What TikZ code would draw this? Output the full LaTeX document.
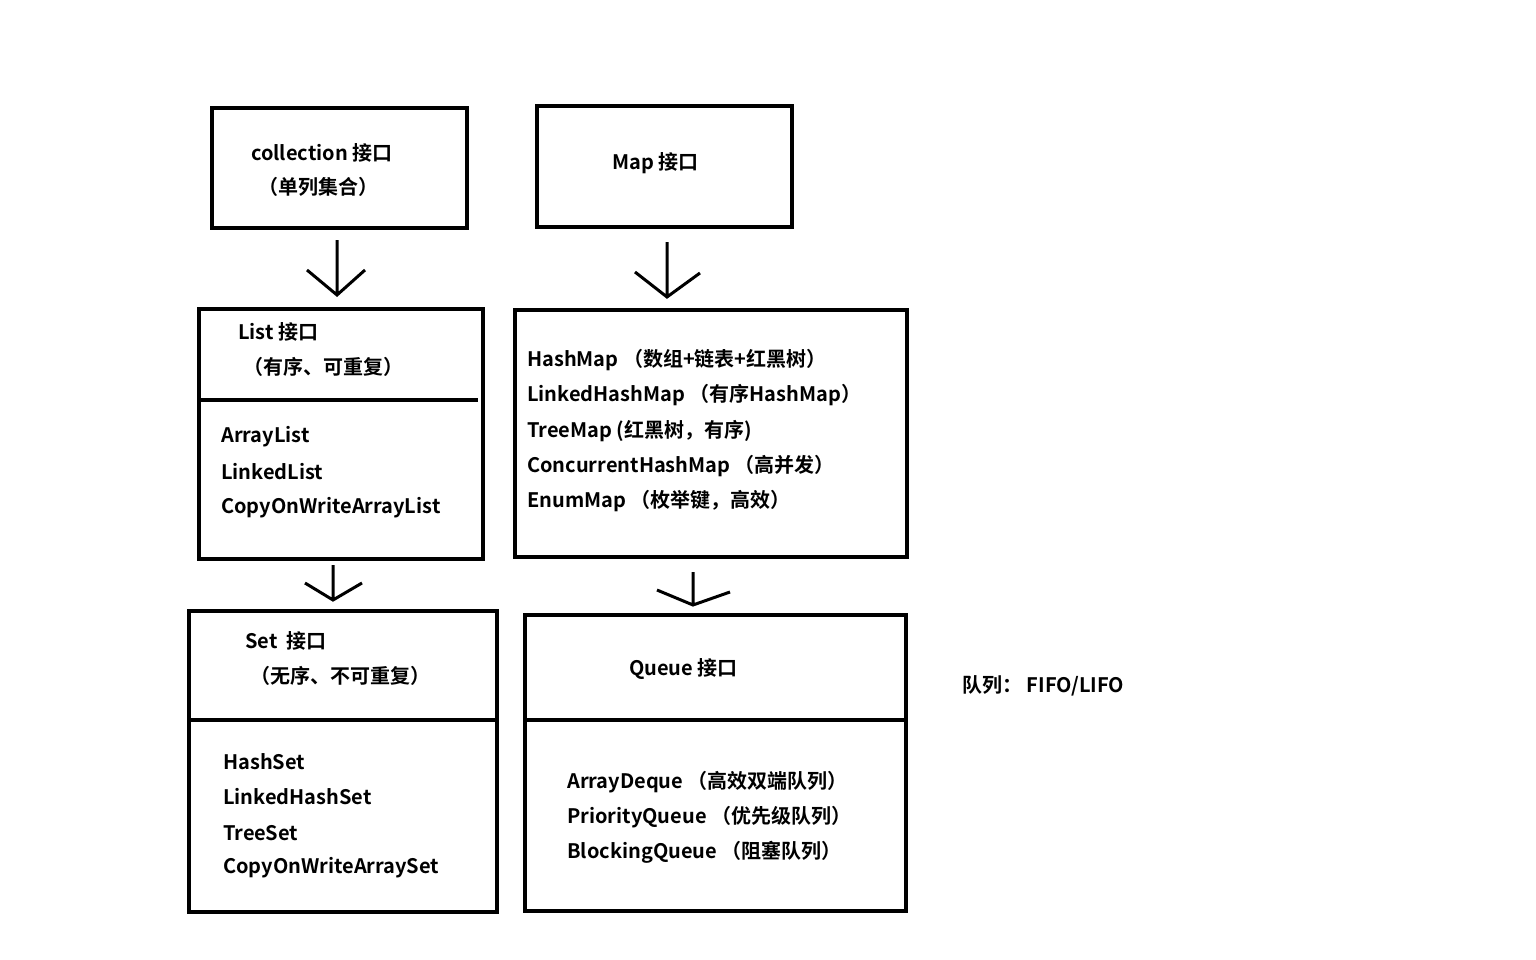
\documentclass[tikz,border=0pt]{standalone}
\usepackage{fontspec}
\setmainfont{Noto Sans CJK SC}[BoldFont={Noto Sans CJK SC Bold}]
\begin{document}
\begin{tikzpicture}[x=1pt,y=-1pt,
  box/.style={line width=3.5pt},
  txt/.style={anchor=west,inner sep=0pt,font=\fontsize{20}{24}\selectfont\bfseries},
  arr/.style={line width=3pt}]
\useasboundingbox[fill=white] (0,0) rectangle (1536,960);
\draw[box] (212,108) rectangle (467,228);
\node[txt] (c1) at (251,153) {collection 接口};
\node[txt] (c2) at (258,187) {（单列集合）};
\draw[box] (537,106) rectangle (792,227);
\node[txt] (m1) at (612,163) {Map 接口};
% arrows
\draw[arr] (337,240) -- (337,295) (307,270) -- (337,295) -- (365,270);
\draw[arr] (667,242) -- (667,297) (635,272) -- (667,297) -- (700,273);
\draw[arr] (333,565) -- (333,600) (305,583) -- (333,600) -- (362,583);
\draw[arr] (693,572) -- (693,605) (657,590) -- (693,605) -- (730,592);
% List
\draw[box] (199,309) rectangle (483,559);
\draw[box] (199,400) -- (478,400);
\node[txt] at (238,332) {List 接口};
\node[txt] at (243,367) {（有序、可重复）};
\node[txt] at (221,437) {ArrayList};
\node[txt] at (221,472) {LinkedList};
\node[txt] at (221,508) {CopyOnWriteArrayList};
% Map impl
\draw[box] (515,310) rectangle (907,557);
\node[txt] at (527,360) {HashMap （数组+链表+红黑树）};
\node[txt] at (527,395) {LinkedHashMap （有序HashMap）};
\node[txt] at (527,431) {TreeMap (红黑树，有序)};
\node[txt] at (527,466) {ConcurrentHashMap （高并发）};
\node[txt] at (527,501) {EnumMap （枚举键，高效）};
% Set
\draw[box] (189,611) rectangle (497,912);
\draw[box] (189,720) -- (497,720);
\node[txt] at (245,641) {Set\ \ 接口};
\node[txt] at (250,676) {（无序、不可重复）};
\node[txt] at (223,762) {HashSet};
\node[txt] at (223,797) {LinkedHashSet};
\node[txt] at (223,833) {TreeSet};
\node[txt] at (223,868) {CopyOnWriteArraySet};
% Queue
\draw[box] (525,615) rectangle (906,911);
\draw[box] (525,720) -- (908,720);
\node[txt] at (629,669) {Queue 接口};
\node[txt] at (567,782) {ArrayDeque （高效双端队列）};
\node[txt] at (567,817) {PriorityQueue （优先级队列）};
\node[txt] at (567,852) {BlockingQueue （阻塞队列）};
\node[txt] at (962,686) {队列： FIFO/LIFO};
\end{tikzpicture}
\end{document}
